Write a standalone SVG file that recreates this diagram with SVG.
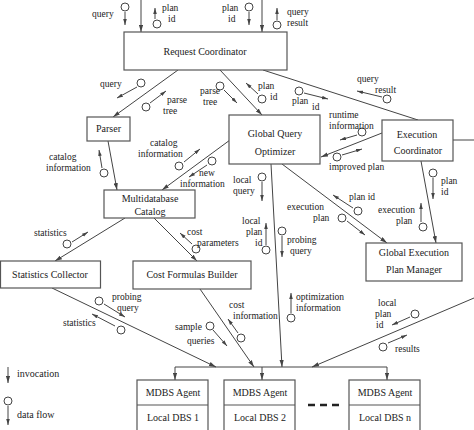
<svg xmlns="http://www.w3.org/2000/svg" width="474" height="430" viewBox="0 0 474 430">
<defs>
<marker id="a" viewBox="0 0 10 6" refX="10" refY="3" markerWidth="7" markerHeight="4.5" markerUnits="userSpaceOnUse" orient="auto"><path d="M0,0 L10,3 L0,6 z" fill="#444"/></marker>
<marker id="b" viewBox="0 0 10 6" refX="10" refY="3" markerWidth="6" markerHeight="4" markerUnits="userSpaceOnUse" orient="auto"><path d="M0,0 L10,3 L0,6 z" fill="#444"/></marker>
</defs>
<style>
text{font-family:"Liberation Serif","Times New Roman",serif;font-size:10px;fill:#222}
#labels text{font-size:9.5px}
.m{text-anchor:middle}
.box{fill:#fff;stroke:#555;stroke-width:1.2}
.c line{stroke:#444;stroke-width:1;fill:none}
.c .i{marker-end:url(#a)}
.df circle{fill:#fff;stroke:#444;stroke-width:1}
.df line{stroke:#444;stroke-width:1;marker-end:url(#b)}
</style>
<rect width="474" height="430" fill="#fff"/>

<g id="connectors" class="c">
<line class="i" x1="141" y1="0" x2="141" y2="32"/>
<line class="i" x1="262" y1="0" x2="262" y2="32"/>
<line class="i" x1="178" y1="70" x2="113" y2="117"/>
<line class="i" x1="220" y1="70" x2="262" y2="115"/>
<line x1="263" y1="70" x2="418" y2="120"/>
<line x1="453" y1="140" x2="474" y2="140"/>
<line class="i" x1="382" y1="133" x2="321" y2="157"/>
<line class="i" x1="108" y1="141" x2="117" y2="190"/>
<line class="i" x1="230" y1="140" x2="162" y2="190"/>
<line class="i" x1="282" y1="164" x2="387" y2="243"/>
<line class="i" x1="421" y1="161" x2="436" y2="243"/>
<line class="i" x1="271" y1="164" x2="282" y2="367"/>
<line class="i" x1="125" y1="218" x2="55" y2="261"/>
<line class="i" x1="154" y1="218" x2="197" y2="261"/>
<line class="i" x1="52" y1="288" x2="216" y2="367"/>
<line class="i" x1="200" y1="289" x2="254" y2="367"/>
<line class="i" x1="474" y1="298" x2="312" y2="367"/>
<line x1="175" y1="367" x2="387" y2="367"/>
<line class="i" x1="175" y1="367" x2="175" y2="380"/>
<line class="i" x1="262" y1="367" x2="262" y2="380"/>
<line class="i" x1="387" y1="367" x2="387" y2="380"/>
</g>

<g id="rc"><rect class="box" x="124" y="32" width="163" height="38"/><text class="m" x="205" y="55">Request  Coordinator</text></g>
<g id="parser"><rect class="box" x="87" y="117" width="43" height="24"/><text class="m" x="108.5" y="132">Parser</text></g>
<g id="gqo"><rect class="box" x="229" y="115" width="91" height="49"/><text class="m" x="275" y="137">Global  Query<tspan x="275" y="155">Optimizer</tspan></text></g>
<g id="ec"><rect class="box" x="382" y="120" width="71" height="41"/><text class="m" x="417" y="138">Execution<tspan x="418" y="154">Coordinator</tspan></text></g>
<g id="mc"><rect class="box" x="104" y="190" width="91" height="28"/><text class="m" x="150" y="202">Multidatabase<tspan x="150" y="215">Catalog</tspan></text></g>
<g id="gepm"><rect class="box" x="366" y="243" width="96" height="38"/><text class="m" x="414" y="256">Global  Execution<tspan x="414" y="273">Plan  Manager</tspan></text></g>
<g id="sc"><rect class="box" x="0.5" y="261" width="100" height="27"/><text class="m" x="50" y="278">Statistics  Collector</text></g>
<g id="cfb"><rect class="box" x="133" y="261" width="118" height="28"/><text class="m" x="192" y="278">Cost  Formulas  Builder</text></g>
<g id="agent1"><rect class="box" x="137" y="380" width="71" height="60"/><line x1="137" y1="405" x2="208" y2="405" stroke="#555" stroke-width="1.2"/><text class="m" x="173" y="396">MDBS Agent</text><text class="m" x="173" y="421">Local  DBS 1</text></g>
<g id="agent2"><rect class="box" x="224" y="380" width="71" height="60"/><line x1="224" y1="405" x2="295" y2="405" stroke="#555" stroke-width="1.2"/><text class="m" x="260" y="396">MDBS Agent</text><text class="m" x="260" y="421">Local  DBS 2</text></g>
<g id="agentn"><rect class="box" x="349" y="380" width="71" height="60"/><line x1="349" y1="405" x2="420" y2="405" stroke="#555" stroke-width="1.2"/><text class="m" x="385" y="396">MDBS Agent</text><text class="m" x="385" y="421">Local DBS n</text></g>
<g id="dots"><line x1="308" y1="405" x2="341" y2="405" stroke="#222" stroke-width="2.5" stroke-dasharray="7,5"/></g>

<g id="dataflows" class="df">
<circle cx="125" cy="7" r="4"/><line x1="125" y1="12" x2="125" y2="25"/>
<circle cx="157" cy="24" r="4"/><line x1="155" y1="19" x2="155" y2="8"/>
<circle cx="249" cy="7" r="4"/><line x1="249" y1="12" x2="249" y2="25"/>
<circle cx="277" cy="25" r="4"/><line x1="277" y1="20" x2="277" y2="8"/>
<circle cx="141" cy="83" r="4"/><line x1="137" y1="87" x2="117" y2="98"/>
<circle cx="146" cy="107" r="4"/><line x1="150" y1="103" x2="166" y2="91"/>
<circle cx="220" cy="86" r="4"/><line x1="224" y1="90" x2="237" y2="103"/>
<circle cx="262" cy="99" r="4"/><line x1="258" y1="94" x2="246" y2="83"/>
<circle cx="299" cy="91" r="4"/><line x1="304" y1="93" x2="328" y2="99"/>
<circle cx="387" cy="99" r="4"/><line x1="382" y1="97" x2="357" y2="91"/>
<circle cx="362" cy="132" r="4"/><line x1="357" y1="135" x2="340" y2="140"/>
<circle cx="337" cy="157" r="4"/><line x1="342" y1="155" x2="362" y2="149"/>
<circle cx="104" cy="173" r="4"/><line x1="102" y1="168" x2="99" y2="150"/>
<circle cx="179" cy="166" r="4"/><line x1="184" y1="162" x2="200" y2="149"/>
<circle cx="212" cy="161" r="4"/><line x1="207" y1="165" x2="189" y2="177"/>
<circle cx="262" cy="177" r="4"/><line x1="262" y1="182" x2="262" y2="201"/>
<circle cx="358" cy="211" r="4"/><line x1="353" y1="208" x2="333" y2="195"/>
<circle cx="342" cy="218" r="4"/><line x1="347" y1="221" x2="365" y2="235"/>
<circle cx="433" cy="173" r="4"/><line x1="433" y1="178" x2="433" y2="199"/>
<circle cx="423" cy="227" r="4"/><line x1="421" y1="222" x2="421" y2="203"/>
<circle cx="67" cy="244" r="4"/><line x1="72" y1="242" x2="88" y2="232"/>
<circle cx="196" cy="249" r="4"/><line x1="192" y1="244" x2="180" y2="233"/>
<circle cx="266" cy="250" r="4"/><line x1="266" y1="245" x2="266" y2="223"/>
<circle cx="282" cy="231" r="4"/><line x1="282" y1="236" x2="282" y2="257"/>
<circle cx="291" cy="318" r="4"/><line x1="291" y1="313" x2="291" y2="293"/>
<circle cx="241" cy="338" r="4"/><line x1="238" y1="333" x2="228" y2="319"/>
<circle cx="210" cy="326" r="4"/><line x1="213" y1="330" x2="227" y2="346"/>
<circle cx="99" cy="301" r="4"/><line x1="104" y1="304" x2="125" y2="317"/>
<circle cx="121" cy="330" r="4"/><line x1="115" y1="326" x2="92" y2="314"/>
<circle cx="415" cy="314" r="4"/><line x1="410" y1="317" x2="392" y2="325"/>
<circle cx="383" cy="347" r="4"/><line x1="388" y1="343" x2="407" y2="335"/>
</g>

<g id="labels">
<text x="92" y="17">query</text>
<text x="162" y="10.5">plan<tspan x="168" y="21.5">id</tspan></text>
<text x="222" y="10.5">plan<tspan x="228" y="21.5">id</tspan></text>
<text x="287" y="15">query<tspan x="287" y="26">result</tspan></text>
<text x="100" y="87">query</text>
<text x="167" y="103">parse<tspan x="163" y="114">tree</tspan></text>
<text x="200" y="94">parse<tspan x="203" y="105">tree</tspan></text>
<text x="258" y="89">plan<tspan x="270" y="100">id</tspan></text>
<text x="292" y="104">plan<tspan x="312" y="110">id</tspan></text>
<text x="357" y="82">query<tspan x="375" y="93">result</tspan></text>
<text x="329" y="118">runtime<tspan x="329" y="129">information</tspan></text>
<text x="329" y="170">improved plan</text>
<text x="49" y="160">catalog<tspan x="46" y="171">information</tspan></text>
<text x="150" y="146">catalog<tspan x="138" y="157">information</tspan></text>
<text x="199" y="176">new<tspan x="180" y="187">information</tspan></text>
<text x="233" y="183">local<tspan x="233" y="194">query</tspan></text>
<text x="349" y="200">plan id</text>
<text x="287" y="210">execution<tspan x="313" y="221">plan</tspan></text>
<text x="441" y="184">plan<tspan x="441" y="195">id</tspan></text>
<text x="378" y="213">execution<tspan x="396" y="224">plan</tspan></text>
<text x="34" y="236">statistics</text>
<text x="187" y="235">cost<tspan x="197" y="246">parameters</tspan></text>
<text x="242" y="224">local<tspan x="246" y="235">plan</tspan><tspan x="255" y="246">id</tspan></text>
<text x="287" y="243">probing<tspan x="290" y="254">query</tspan></text>
<text x="296" y="300">optimization<tspan x="296" y="311">information</tspan></text>
<text x="229" y="307.5">cost<tspan x="233" y="318.5">information</tspan></text>
<text x="175" y="330">sample<tspan x="187" y="344">queries</tspan></text>
<text x="112" y="300">probing<tspan x="117" y="311">query</tspan></text>
<text x="63" y="326">statistics</text>
<text x="378" y="306">local<tspan x="375" y="317">plan</tspan><tspan x="376" y="328">id</tspan></text>
<text x="395" y="352">results</text>
</g>

<g id="legend">
<line x1="8" y1="367" x2="8" y2="383" stroke="#444" marker-end="url(#a)"/>
<text x="17" y="377">invocation</text>
<circle cx="8" cy="401" r="4" fill="#fff" stroke="#444"/>
<line x1="8" y1="406" x2="8" y2="425" stroke="#444" marker-end="url(#b)"/>
<text x="17" y="418">data flow</text>
</g>
</svg>
